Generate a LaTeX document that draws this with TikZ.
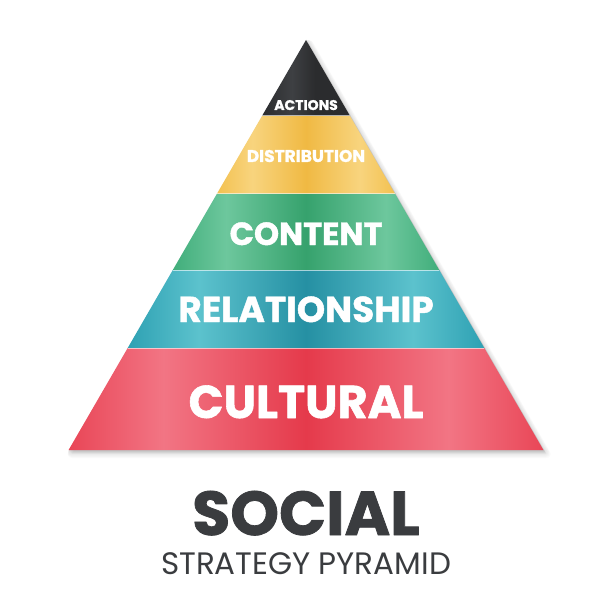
\documentclass[tikz,border=0pt]{standalone}
\usepackage{fontspec}
\setmainfont{Poppins}
\newfontfamily\heavyfont[BoldFeatures={FakeBold=1.2}]{Poppins}
\usetikzlibrary{calc}

\definecolor{inkgray}{HTML}{3A3C3F}
\definecolor{topmid}{HTML}{2B2C2E}
\definecolor{toplight}{HTML}{3E4043}
\definecolor{yelmid}{HTML}{F3C150}
\definecolor{yellight}{HTML}{F8D47E}
\definecolor{yeldark}{HTML}{F0B943}
\definecolor{grnmid}{HTML}{41AE7B}
\definecolor{grnlight}{HTML}{6DC79D}
\definecolor{grndark}{HTML}{36A26D}
\definecolor{tealmid}{HTML}{2EA1B3}
\definecolor{teallight}{HTML}{5CC2CD}
\definecolor{tealdark}{HTML}{2590A3}
\definecolor{redmid}{HTML}{E94657}
\definecolor{redlight}{HTML}{F27584}
\definecolor{reddark}{HTML}{E53A4B}

\pgfdeclarehorizontalshading{topband}{100bp}{color(0bp)=(topmid); color(25bp)=(topmid);
  color(42bp)=(toplight); color(55bp)=(topmid); color(75bp)=(topmid); color(100bp)=(topmid)}
\pgfdeclarehorizontalshading{yelband}{100bp}{color(0bp)=(yelmid); color(25bp)=(yelmid);
  color(35bp)=(yellight); color(50bp)=(yeldark); color(65bp)=(yellight); color(75bp)=(yelmid); color(100bp)=(yelmid)}
\pgfdeclarehorizontalshading{grnband}{100bp}{color(0bp)=(grnmid); color(25bp)=(grnmid);
  color(35bp)=(grnlight); color(50bp)=(grndark); color(65bp)=(grnlight); color(75bp)=(grnmid); color(100bp)=(grnmid)}
\pgfdeclarehorizontalshading{tealband}{100bp}{color(0bp)=(tealmid); color(25bp)=(tealmid);
  color(35bp)=(teallight); color(50bp)=(tealdark); color(65bp)=(teallight); color(75bp)=(tealmid); color(100bp)=(tealmid)}
\pgfdeclarehorizontalshading{redband}{100bp}{color(0bp)=(redmid); color(25bp)=(redmid);
  color(35bp)=(redlight); color(50bp)=(reddark); color(65bp)=(redlight); color(75bp)=(redmid); color(100bp)=(redmid)}

\begin{document}
\begin{tikzpicture}[x=1pt,y=-1pt,line join=round]
  \tikzstyle{layertext}=[text=white,anchor=base,inner sep=0pt,font=\heavyfont\bfseries]
  \tikzstyle{titletext}=[text=inkgray,anchor=base,inner sep=0pt]

  \useasboundingbox[fill=white] (0,0) rectangle (612,612);

  % soft shadow
  \foreach \s in {1,...,8}
    \filldraw[black!70,opacity=0.025,line width=\s pt,xshift=0.4*\s pt,yshift=-0.5*\s pt]
      (306,40) -- (543.4,450) -- (68.6,450) -- cycle;

  % layers, top to bottom
  \shade[shading=topband]  (306,40) -- (350.0,116) -- (262.0,116) -- cycle;
  \shade[shading=yelband]  (262.0,116) -- (350.0,116) -- (395.2,194) -- (216.8,194) -- cycle;
  \shade[shading=grnband]  (216.8,194) -- (395.2,194) -- (439.2,270) -- (172.8,270) -- cycle;
  \shade[shading=tealband] (172.8,270) -- (439.2,270) -- (484.3,348) -- (127.7,348) -- cycle;
  \shade[shading=redband]  (127.7,348) -- (484.3,348) -- (543.4,450) -- (68.6,450) -- cycle;

  % thin seams
  \draw[white,opacity=0.6,line width=1pt] (262.0,116) -- (350.0,116)
    (216.8,194) -- (395.2,194) (172.8,270) -- (439.2,270) (127.7,348) -- (484.3,348);

  \node[layertext,font=\heavyfont\bfseries\fontsize{14}{14}\selectfont] (actions) at (306,110) {ACTIONS};
  \node[layertext,font=\heavyfont\bfseries\fontsize{17}{17}\selectfont] (distribution) at (306,162) {DISTRIBUTION};
  \node[layertext,font=\heavyfont\bfseries\fontsize{32}{32}\selectfont] (content) at (306,245) {CONTENT};
  \node[layertext,font=\heavyfont\bfseries\fontsize{36}{36}\selectfont] (relationship) at (306,322) {RELATIONSHIP};
  \node[layertext,font=\heavyfont\bfseries\fontsize{46}{46}\selectfont] (cultural) at (306,418) {CULTURAL};

  \node[titletext,text depth=0pt,font=\heavyfont\bfseries\fontsize{62}{62}\selectfont] (social) at (306,535) {SOCIAL};
  \node[titletext,text height=22pt,font=\fontsize{31}{31}\selectfont] (subtitle) at (306,574) {STRATEGY PYRAMID};
\end{tikzpicture}
\end{document}
